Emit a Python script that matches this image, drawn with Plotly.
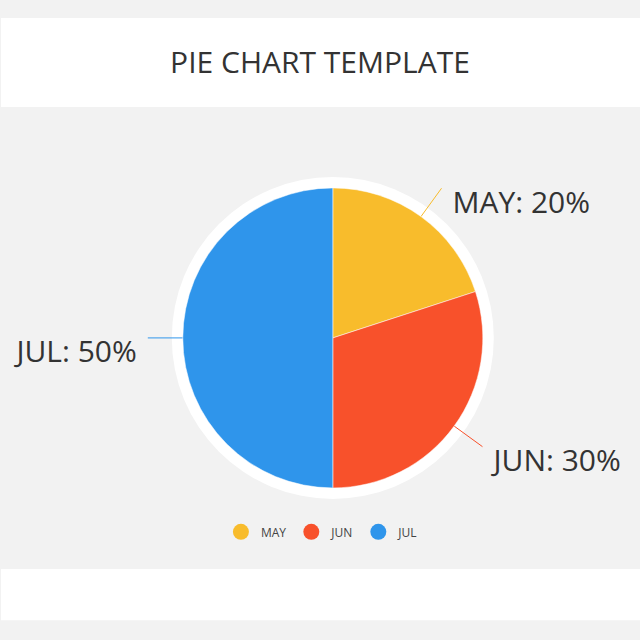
import numpy as np
import plotly.graph_objects as go

months = ["MAY", "JUN", "JUL"]
shares = [20, 30, 50]
colors = ["#F8BC2C", "#F8512B", "#2F95EB"]

# pie geometry (paper units, figure is 640x640 with no margins)
cx, cy = 0.520, 0.472
r_pie = 150 / 640
r_ring = 161 / 640
r_out = 250 / 640

fig = go.Figure()

# white ring: background of a polar subplot sitting behind the pie
fig.add_trace(go.Scatterpolar(r=[None], theta=[None], subplot="polar",
                              showlegend=False, hoverinfo="skip"))

fig.add_trace(go.Pie(labels=months, values=shares, sort=False, direction="clockwise",
                     marker=dict(colors=colors, line=dict(color="white", width=0.5)),
                     textinfo="none", showlegend=False,
                     domain=dict(x=[cx - r_pie, cx + r_pie], y=[cy - r_pie, cy + r_pie])))

# leader lines at slice midpoints (polar2: 1 radial unit = 1 px)
mid = (np.cumsum(shares) - np.array(shares) / 2) / sum(shares) * 360
for c, t in zip(colors, mid):
    fig.add_trace(go.Scatterpolar(r=[150, 185], theta=[t, t], mode="lines", subplot="polar2",
                                  line=dict(color=c, width=1),
                                  hoverinfo="skip", showlegend=False))

# labels: a little outward (horizontally) from the end of each leader line
right = np.sin(np.radians(mid)) >= 0
ex = 185 * np.sin(np.radians(mid)) + np.where(right, 11, -11)
ey = 185 * np.cos(np.radians(mid)) - 2
fig.add_trace(go.Scatterpolar(r=np.hypot(ex, ey), theta=np.degrees(np.arctan2(ex, ey)) % 360,
                              mode="text", subplot="polar2",
                              text=[f"{m}: {s}%" for m, s in zip(months, shares)],
                              textposition=["bottom right" if rt else "bottom left" for rt in right],
                              textfont=dict(family="Open Sans", size=30, color="#333333"),
                              hoverinfo="skip", showlegend=False))

# circle legend entries
for m, c in zip(months, colors):
    fig.add_trace(go.Scatter(x=[None], y=[None], mode="markers", name=m,
                             marker=dict(size=17, color=c)))

fig.update_layout(
    width=640, height=640,
    margin=dict(l=0, r=0, t=0, b=0),
    paper_bgcolor="#F2F2F2", plot_bgcolor="rgba(0,0,0,0)",
    font=dict(family="Open Sans", color="#333333"),
    title=dict(text="PIE CHART TEMPLATE", x=0.5, xanchor="center", y=0.903, yanchor="middle",
               font=dict(size=30, color="#333333")),
    xaxis=dict(visible=False), yaxis=dict(visible=False),
    polar=dict(domain=dict(x=[cx - r_ring, cx + r_ring], y=[cy - r_ring, cy + r_ring]),
               bgcolor="white",
               radialaxis=dict(range=[0, 161], visible=False),
               angularaxis=dict(visible=False, rotation=90, direction="clockwise")),
    polar2=dict(domain=dict(x=[cx - r_out, cx + r_out], y=[cy - r_out, cy + r_out]),
                bgcolor="rgba(0,0,0,0)",
                radialaxis=dict(range=[0, 250], visible=False),
                angularaxis=dict(visible=False, rotation=90, direction="clockwise")),
    legend=dict(orientation="h", x=0.503, xanchor="center", y=0.169, yanchor="middle",
                font=dict(size=12, color="#444444"), bgcolor="rgba(0,0,0,0)"),
    shapes=[
        dict(type="rect", xref="paper", yref="paper", x0=0.0016, x1=1, y0=0.833, y1=0.972,
             fillcolor="white", line=dict(width=0), layer="below"),
        dict(type="rect", xref="paper", yref="paper", x0=0.0016, x1=1, y0=0.031, y1=0.111,
             fillcolor="white", line=dict(width=0), layer="below"),
    ],
)

fig.write_html("out.html", config={"displayModeBar": False},
               post_script="document.body.style.margin='0';")
